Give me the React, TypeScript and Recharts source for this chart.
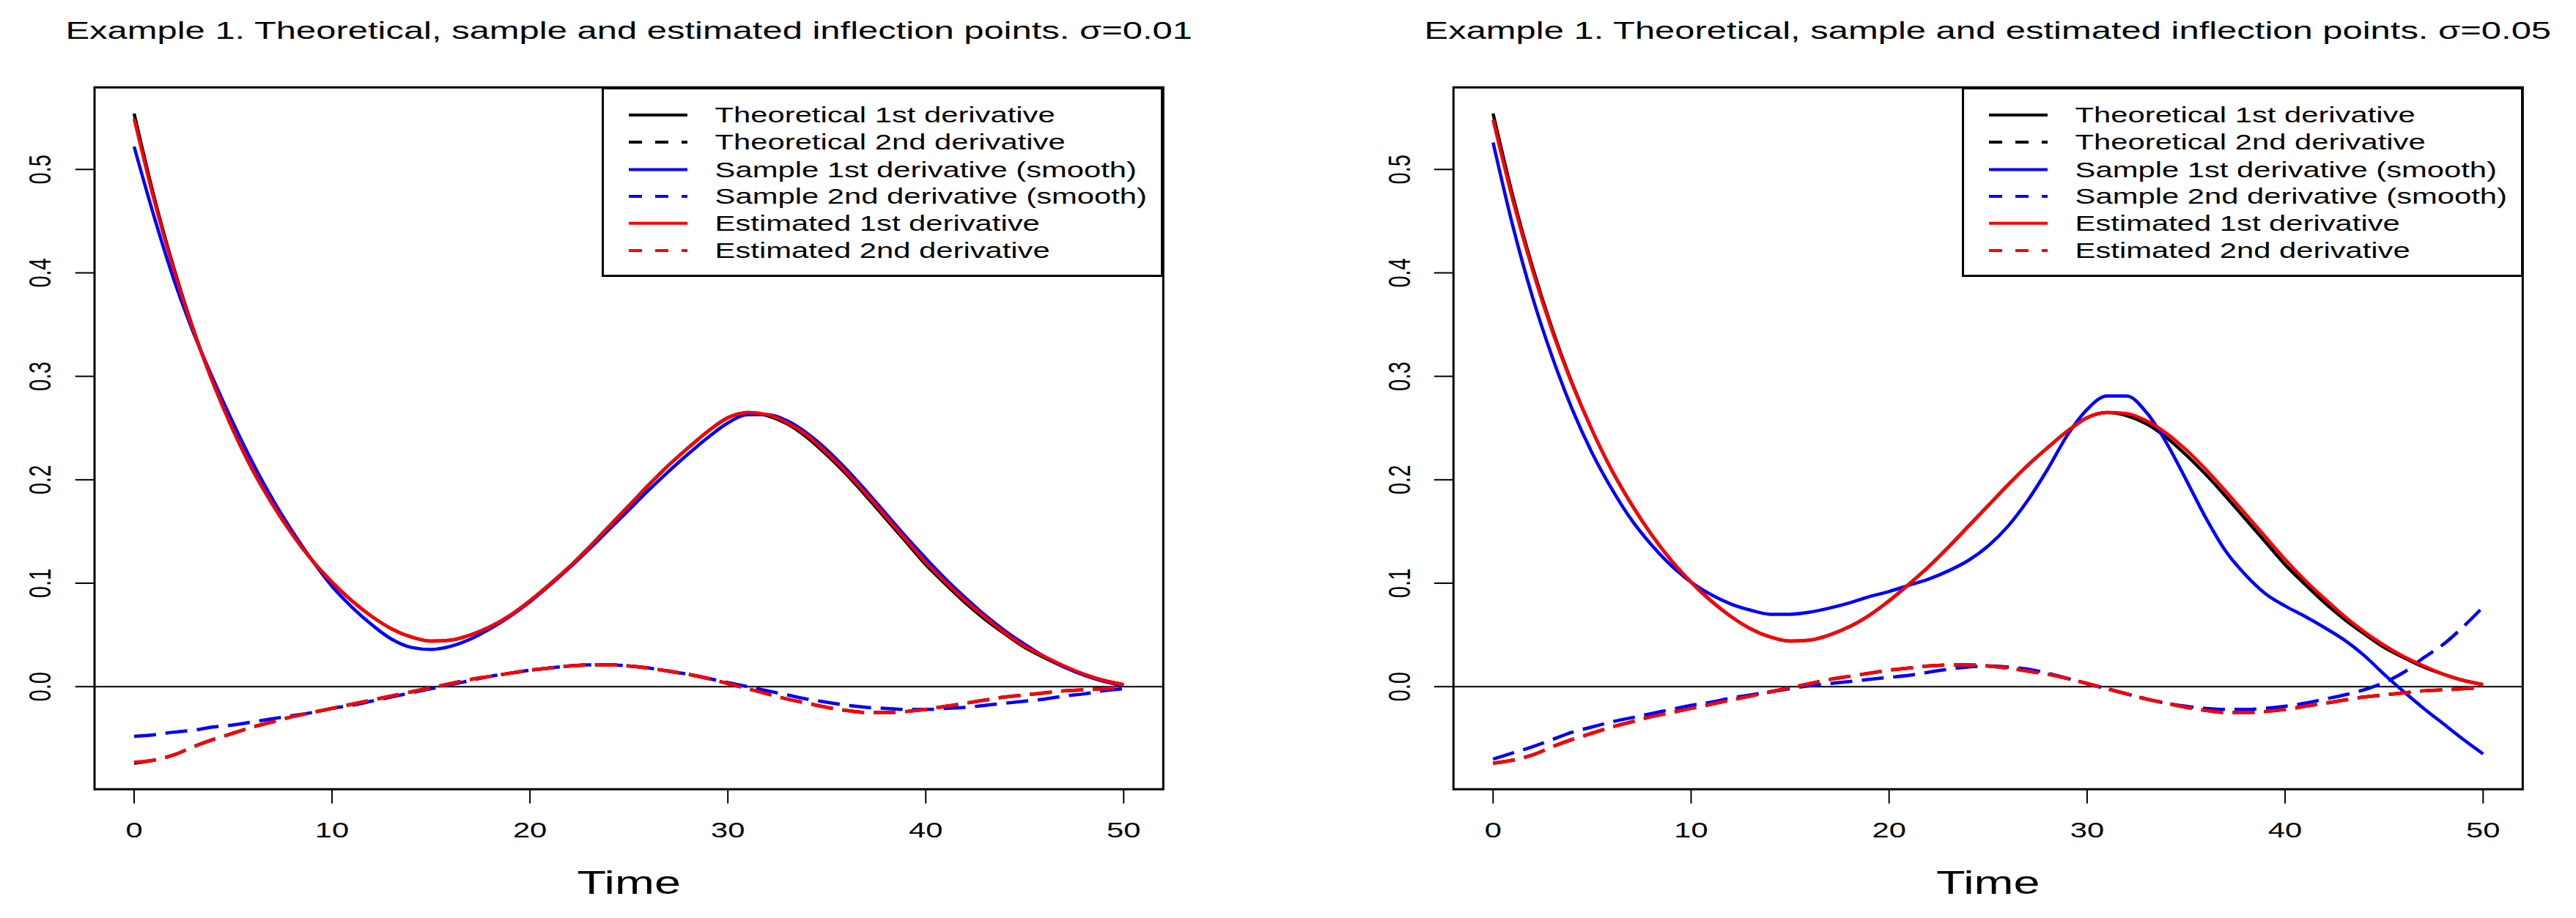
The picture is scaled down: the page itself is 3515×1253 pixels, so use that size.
import React from 'react';
import { LineChart, Line, XAxis, YAxis, ReferenceArea, ReferenceLine, Legend } from 'recharts';

const TIME = [
  0, 1, 2, 3, 4, 5, 6, 7, 8, 9, 10, 11, 12, 13, 14, 15, 16, 17, 18, 19, 20, 21, 22, 23, 24, 25,
  26, 27, 28, 29, 30, 31, 32, 33, 34, 35, 36, 37, 38, 39, 40, 41, 42, 43, 44, 45, 46, 47, 48, 49, 50,
];

const THEO_1ST = [
  0.554, 0.474, 0.405, 0.345, 0.293, 0.248, 0.209, 0.176, 0.147, 0.122, 0.101, 0.083, 0.068, 0.056, 0.048, 0.044,
  0.045, 0.050, 0.058, 0.069, 0.083, 0.099, 0.116, 0.135, 0.155, 0.175, 0.195, 0.214, 0.231, 0.247, 0.260, 0.265,
  0.262, 0.254, 0.241, 0.224, 0.205, 0.184, 0.162, 0.140, 0.118, 0.099, 0.081, 0.065, 0.051, 0.038, 0.028, 0.019,
  0.012, 0.006, 0.002,
];
const THEO_2ND = [
  -0.074, -0.071, -0.066, -0.058, -0.051, -0.045, -0.039, -0.034, -0.029, -0.025, -0.021, -0.017, -0.013, -0.009,
  -0.005, -0.001, 0.003, 0.007, 0.010, 0.013, 0.016, 0.018, 0.020, 0.021, 0.021, 0.020, 0.018, 0.015, 0.012, 0.008,
  0.003, -0.002, -0.007, -0.012, -0.016, -0.020, -0.023, -0.025, -0.025, -0.024, -0.022, -0.019, -0.016, -0.013,
  -0.010, -0.008, -0.006, -0.004, -0.003, -0.002, -0.001,
];

// sigma = 0.01
const SAMPLE_1ST_A = [
  0.522, 0.455, 0.394, 0.342, 0.297, 0.255, 0.216, 0.181, 0.150, 0.122, 0.097, 0.077, 0.060, 0.046, 0.038, 0.036,
  0.039, 0.046, 0.056, 0.068, 0.082, 0.098, 0.115, 0.133, 0.152, 0.171, 0.190, 0.208, 0.225, 0.241, 0.255, 0.263,
  0.263, 0.257, 0.245, 0.229, 0.210, 0.189, 0.167, 0.145, 0.124, 0.104, 0.086, 0.069, 0.054, 0.041, 0.029, 0.019,
  0.011, 0.005, 0.001,
];
const SAMPLE_2ND_A = [
  -0.048, -0.0465, -0.044, -0.042, -0.039, -0.037, -0.034, -0.031, -0.028, -0.025, -0.021, -0.018, -0.014, -0.010,
  -0.006, -0.002, 0.002, 0.006, 0.010, 0.013, 0.016, 0.018, 0.020, 0.021, 0.021, 0.020, 0.018, 0.015, 0.012, 0.008,
  0.004, 0.000, -0.004, -0.008, -0.012, -0.015, -0.018, -0.020, -0.021, -0.022, -0.022, -0.021, -0.020, -0.018,
  -0.016, -0.014, -0.012, -0.009, -0.007, -0.004, -0.002,
];
const EST_1ST_A = [
  0.549, 0.471, 0.403, 0.344, 0.293, 0.248, 0.209, 0.176, 0.147, 0.122, 0.101, 0.083, 0.068, 0.056, 0.048, 0.044,
  0.045, 0.050, 0.058, 0.069, 0.083, 0.099, 0.116, 0.135, 0.155, 0.175, 0.195, 0.214, 0.231, 0.247, 0.260, 0.265,
  0.263, 0.255, 0.243, 0.226, 0.207, 0.186, 0.164, 0.142, 0.120, 0.101, 0.083, 0.067, 0.052, 0.039, 0.029, 0.020,
  0.012, 0.006, 0.002,
];
const EST_2ND_A = [
  -0.073, -0.071, -0.066, -0.058, -0.051, -0.045, -0.039, -0.034, -0.029, -0.025, -0.021, -0.017, -0.013, -0.009,
  -0.005, -0.001, 0.003, 0.007, 0.010, 0.013, 0.016, 0.018, 0.020, 0.021, 0.021, 0.020, 0.018, 0.015, 0.012, 0.008,
  0.003, -0.002, -0.007, -0.012, -0.016, -0.020, -0.023, -0.025, -0.025, -0.024, -0.022, -0.019, -0.016, -0.013,
  -0.010, -0.008, -0.006, -0.004, -0.003, -0.002, -0.001,
];

// sigma = 0.05
const SAMPLE_1ST_B = [
  0.526, 0.445, 0.376, 0.318, 0.268, 0.226, 0.191, 0.161, 0.137, 0.117, 0.101, 0.089, 0.080, 0.074, 0.070, 0.070,
  0.072, 0.076, 0.081, 0.087, 0.092, 0.098, 0.104, 0.112, 0.122, 0.136, 0.155, 0.180, 0.210, 0.243, 0.268, 0.281,
  0.281, 0.265, 0.236, 0.200, 0.163, 0.131, 0.108, 0.090, 0.078, 0.068, 0.057, 0.045, 0.030, 0.012, -0.005, -0.021,
  -0.036, -0.051, -0.065,
];
const SAMPLE_2ND_B = [
  -0.070, -0.064, -0.058, -0.051, -0.044, -0.039, -0.034, -0.030, -0.026, -0.022, -0.018, -0.015, -0.011, -0.008,
  -0.005, -0.002, 0.001, 0.003, 0.005, 0.007, 0.009, 0.011, 0.014, 0.017, 0.019, 0.020, 0.019, 0.017, 0.013, 0.008,
  0.003, -0.002, -0.007, -0.012, -0.016, -0.019, -0.021, -0.022, -0.022, -0.021, -0.019, -0.016, -0.012, -0.008,
  -0.003, 0.004, 0.014, 0.028, 0.041, 0.058, 0.077,
];
const EST_1ST_B = [
  0.548, 0.470, 0.402, 0.343, 0.292, 0.248, 0.209, 0.176, 0.147, 0.122, 0.101, 0.083, 0.068, 0.056, 0.048, 0.044,
  0.045, 0.050, 0.058, 0.069, 0.083, 0.099, 0.116, 0.135, 0.155, 0.175, 0.195, 0.214, 0.231, 0.247, 0.260, 0.265,
  0.264, 0.257, 0.245, 0.229, 0.210, 0.189, 0.167, 0.145, 0.123, 0.103, 0.085, 0.068, 0.053, 0.040, 0.029, 0.020,
  0.012, 0.006, 0.002,
];
const EST_2ND_B = [
  -0.074, -0.071, -0.066, -0.058, -0.051, -0.045, -0.039, -0.034, -0.029, -0.025, -0.021, -0.017, -0.013, -0.009,
  -0.005, -0.001, 0.003, 0.007, 0.010, 0.013, 0.016, 0.018, 0.020, 0.021, 0.021, 0.020, 0.018, 0.015, 0.012, 0.008,
  0.003, -0.002, -0.007, -0.012, -0.016, -0.020, -0.023, -0.025, -0.025, -0.024, -0.022, -0.019, -0.016, -0.013,
  -0.010, -0.008, -0.006, -0.004, -0.003, -0.002, -0.001,
];

const X_TICKS = [0, 10, 20, 30, 40, 50];
const Y_TICKS = [0, 0.1, 0.2, 0.3, 0.4, 0.5];
const X_DOMAIN = [-2, 52];
const Y_DOMAIN = [-0.0992, 0.5793];

const SERIES_NAMES = [
  'Theoretical 1st derivative',
  'Theoretical 2nd derivative',
  'Sample 1st derivative (smooth)',
  'Sample 2nd derivative (smooth)',
  'Estimated 1st derivative',
  'Estimated 2nd derivative',
];
const SERIES_COLORS = ['#000000', '#000000', '#0000FF', '#0000FF', '#FF0000', '#FF0000'];
const SERIES_DASHED = [false, true, false, true, false, true];
const SERIES_KEYS = ['th1', 'th2', 's1', 's2', 'e1', 'e2'];

const TITLES = [
  'Example 1. Theoretical, sample and estimated inflection points. \u03C3=0.01',
  'Example 1. Theoretical, sample and estimated inflection points. \u03C3=0.05',
];
const X_LABEL = 'Time';

const FONT = '"Liberation Sans", Arial, Helvetica, sans-serif';
const SX = 1.44;

function buildRows(s1: number[], s2: number[], e1: number[], e2: number[]) {
  return TIME.map((t, i) => ({
    t,
    th1: THEO_1ST[i],
    th2: THEO_2ND[i],
    s1: s1[i],
    s2: s2[i],
    e1: e1[i],
    e2: e2[i],
  }));
}

const DATA_A = buildRows(SAMPLE_1ST_A, SAMPLE_2ND_A, EST_1ST_A, EST_2ND_A);
const DATA_B = buildRows(SAMPLE_1ST_B, SAMPLE_2ND_B, EST_1ST_B, EST_2ND_B);

const LEG_W = 766;
const LEG_H = 259;
const LEG_ROWS = [38, 75, 112.4, 149, 185.7, 223];

function LegendBox() {
  return (
    <svg width={LEG_W} height={LEG_H} style={{ display: 'block' }}>
      <rect x={1.5} y={1.5} width={LEG_W - 3} height={LEG_H - 3} fill="#ffffff" stroke="#000" strokeWidth={3} />
      {SERIES_NAMES.map((name, i) => (
        <g key={name}>
          <line
            x1={37}
            x2={117}
            y1={LEG_ROWS[i]}
            y2={LEG_ROWS[i]}
            stroke={SERIES_COLORS[i]}
            strokeWidth={4}
            strokeDasharray={SERIES_DASHED[i] ? '18 18' : undefined}
          />
          <text
            transform={`translate(154.6, ${LEG_ROWS[i] + 10.4}) scale(${SX},1)`}
            fontFamily={FONT}
            fontSize={29}
            fill="#000"
          >
            {name}
          </text>
        </g>
      ))}
    </svg>
  );
}

function XTick(props: any) {
  const { x, payload } = props;
  return (
    <text transform={`translate(${x}, 1143) scale(${SX},1)`} textAnchor="middle" fontFamily={FONT} fontSize={29} fill="#000">
      {String(payload.value)}
    </text>
  );
}

function makeYTick(baseX: number) {
  return function YTick(props: any) {
    const { y, payload } = props;
    return (
      <text
        transform={`translate(${baseX}, ${y}) scale(${SX},1) rotate(-90)`}
        textAnchor="middle"
        fontFamily={FONT}
        fontSize={29}
        fill="#000"
      >
        {Number(payload.value).toFixed(1)}
      </text>
    );
  };
}

type PanelProps = {
  data: any[];
  left: number;
  width: number;
  plotLeft: number;
  plotRight: number;
  legendLeft: number;
};

function Panel({ data, left, width, plotLeft, plotRight, legendLeft }: PanelProps) {
  const YTick = makeYTick(plotLeft - 59.7);
  return (
    <div style={{ position: 'absolute', left, top: 0, width, height: 1253 }}>
      <LineChart
        width={width}
        height={1253}
        data={data}
        margin={{ top: 119.3, right: width - plotRight, bottom: 0, left: 0 }}
      >
        <XAxis
          dataKey="t"
          type="number"
          domain={X_DOMAIN}
          ticks={X_TICKS}
          allowDataOverflow
          axisLine={false}
          tickLine={{ stroke: '#000', strokeWidth: 2 }}
          tickSize={19.4}
          height={175.7}
          tick={<XTick />}
          interval={0}
        />
        <YAxis
          type="number"
          domain={Y_DOMAIN}
          ticks={Y_TICKS}
          allowDataOverflow
          axisLine={false}
          tickLine={{ stroke: '#000', strokeWidth: 2 }}
          tickSize={26.3}
          width={plotLeft}
          tick={<YTick />}
          interval={0}
        />
        <ReferenceLine y={0} stroke="#000" strokeWidth={2.2} />
        {SERIES_KEYS.map((k, i) => (
          <Line
            key={k}
            dataKey={k}
            name={SERIES_NAMES[i]}
            type="monotone"
            stroke={SERIES_COLORS[i]}
            strokeWidth={4.5}
            strokeDasharray={SERIES_DASHED[i] ? '30 13' : undefined}
            dot={false}
            activeDot={false}
            isAnimationActive={false}
          />
        ))}
        <ReferenceArea
          x1={X_DOMAIN[0]}
          x2={X_DOMAIN[1]}
          y1={Y_DOMAIN[0]}
          y2={Y_DOMAIN[1]}
          fill="none"
          fillOpacity={0}
          stroke="#000"
          strokeWidth={3}
        />
        <Legend
          layout="horizontal"
          verticalAlign="middle"
          align="center"
          wrapperStyle={{ left: legendLeft, top: 119.3, width: LEG_W, height: LEG_H }}
          content={() => <LegendBox />}
        />
      </LineChart>
    </div>
  );
}

export default function App() {
  return (
    <div style={{ position: 'absolute', left: 0, top: 0, width: 3515, height: 1253, background: '#fff', overflow: 'hidden' }}>
      <Panel data={DATA_A} left={0} width={1757} plotLeft={129} plotRight={1587.3} legendLeft={821.4} />
      <Panel data={DATA_B} left={1757} width={1758} plotLeft={226.3} plotRight={1685.3} legendLeft={919.5} />
      <svg width={3515} height={1253} style={{ position: 'absolute', left: 0, top: 0, pointerEvents: 'none' }}>
        <text transform={`translate(858.2, 53.3) scale(${SX},1)`} textAnchor="middle" fontFamily={FONT} fontSize={34} fill="#000">
          {TITLES[0]}
        </text>
        <text transform={`translate(2712.3, 53.3) scale(${SX},1)`} textAnchor="middle" fontFamily={FONT} fontSize={34} fill="#000">
          {TITLES[1]}
        </text>
        <text transform={`translate(858.2, 1220) scale(${SX},1)`} textAnchor="middle" fontFamily={FONT} fontSize={45} fill="#000">
          {X_LABEL}
        </text>
        <text transform={`translate(2712.8, 1220) scale(${SX},1)`} textAnchor="middle" fontFamily={FONT} fontSize={45} fill="#000">
          {X_LABEL}
        </text>
      </svg>
    </div>
  );
}
